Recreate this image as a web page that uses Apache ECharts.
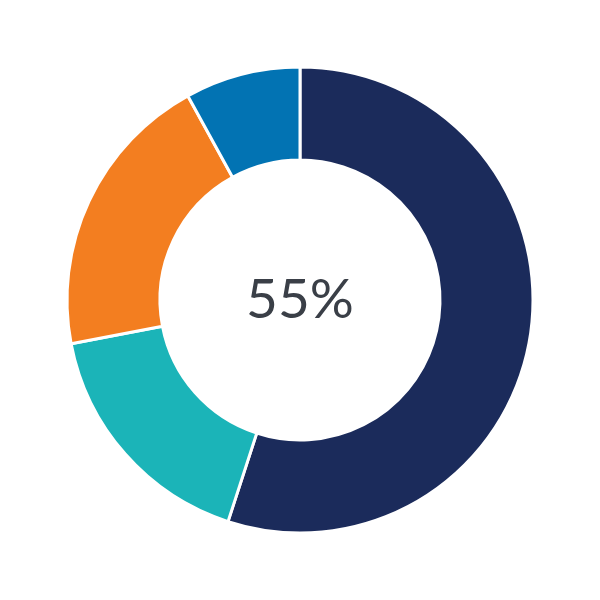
<!DOCTYPE html>
<html><head><meta charset="utf-8">
<script src="https://cdn.jsdelivr.net/npm/echarts@6/dist/echarts.min.js"></script>
<style>html,body{margin:0;padding:0;background:#fff}#c{width:600px;height:600px}</style>
</head><body><div id="c"></div>
<script>
const names = ['A','B','C','D'];
const values = [55, 17, 20, 8];
const colors = ['#1b2b5b','#1bb4b8','#f37e20','#0273b3'];
const centerLabel = '55%';
const chart = echarts.init(document.getElementById('c'));
chart.setOption({
  animation:false,
  graphic:[{type:'text',left:'center',top:'middle',style:{text:centerLabel,font:'400 55px Lato',fill:'#3a3f47'}}],
  series:[{
    type:'pie', radius:[140,233], center:[300,300], startAngle:90, clockwise:true,
    label:{show:false}, labelLine:{show:false},
    itemStyle:{borderColor:'#fff',borderWidth:3},
    data:names.map((n,i)=>({name:n,value:values[i],itemStyle:{color:colors[i]}}))
  }]
});
</script></body></html>
